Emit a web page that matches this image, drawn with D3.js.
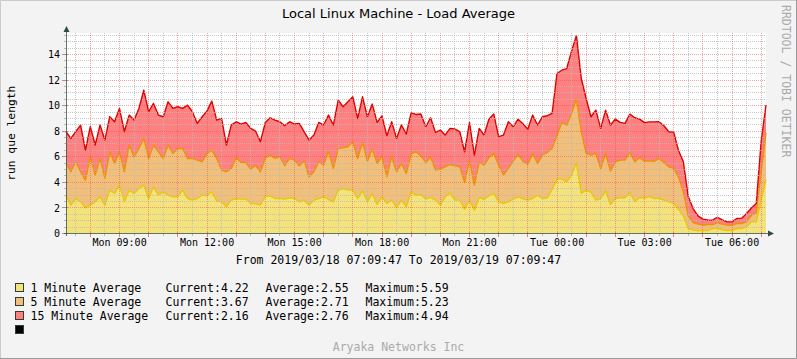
<!DOCTYPE html>
<html><head><meta charset="utf-8">
<script src="https://cdn.jsdelivr.net/npm/d3@7"></script>
<style>body{margin:0;background:#F3F3F3} svg{display:block}</style>
</head><body><svg id="c" width="797" height="359"></svg>
<script>
const startTime = Date.UTC(2019, 2, 18, 7, 9, 47);
const stepMinutes = 10;
const oneMin = [2.95,2.22,2.74,2.48,2.01,2.22,2.48,2.87,2.22,3.39,
3.13,3.78,2.48,3.39,3.13,3.52,3.78,2.74,3.65,3.00,
3.26,3.00,2.87,2.87,3.39,2.74,2.61,2.74,3.00,2.95,
3.26,2.53,2.48,2.09,2.61,2.74,2.69,2.71,2.35,2.32,
2.22,2.92,2.95,2.74,2.74,2.69,2.79,2.74,2.48,2.61,
2.22,2.61,2.74,2.87,2.66,2.48,3.39,3.52,3.39,3.39,
2.74,3.34,2.48,3.13,2.27,2.87,2.35,2.61,2.03,2.61,
2.09,3.26,3.00,3.05,2.69,2.82,2.61,2.22,2.87,3.18,
2.61,2.61,1.90,2.61,1.82,2.82,2.66,2.95,3.13,2.48,
2.35,2.48,2.69,2.87,2.71,2.61,2.74,3.00,2.74,2.79,
3.44,4.25,4.25,4.04,4.56,5.55,3.13,3.39,3.21,2.61,
2.74,3.34,2.27,2.74,2.79,2.79,3.21,2.48,2.82,2.76,
2.89,2.74,2.74,2.61,2.48,2.35,1.90,1.38,0.39,0.26,
0.21,0.23,0.23,0.39,0.39,0.29,0.23,0.23,0.39,0.39,
0.52,0.91,0.91,2.61,4.22];
const fiveMin = [2.53,2.61,2.87,2.35,2.16,3.78,2.09,3.00,2.09,3.00,
2.35,2.61,2.35,3.52,2.87,3.13,3.65,3.13,3.26,3.39,
2.61,3.91,3.39,3.78,3.26,3.13,3.26,3.00,2.61,3.31,
3.26,3.34,2.48,2.74,2.48,3.18,2.87,2.84,2.69,3.02,
2.61,3.00,3.18,3.13,3.26,2.61,3.08,3.00,2.82,3.05,
2.22,2.22,2.87,2.48,3.78,2.61,3.26,3.18,3.39,3.78,
3.13,3.78,3.18,3.47,3.21,3.18,2.09,3.39,2.79,2.87,
2.61,2.97,3.39,3.02,2.87,3.15,2.35,2.82,2.35,2.22,
2.69,2.61,2.09,3.13,1.96,2.74,2.69,2.97,3.13,2.87,
2.22,2.61,2.97,3.31,2.95,2.79,3.52,2.48,3.39,3.55,
3.21,3.44,4.43,4.43,4.80,5.01,4.82,2.87,2.92,3.65,
2.35,2.92,2.61,2.87,2.95,2.95,3.13,3.13,3.10,2.89,
2.79,2.89,3.13,2.95,2.74,2.74,2.53,1.88,0.99,0.60,
0.52,0.42,0.47,0.31,0.44,0.44,0.42,0.42,0.39,0.39,
0.39,0.52,0.70,2.22,3.67];
const fifteenMin = [2.48,2.61,2.35,3.65,2.35,2.35,2.35,2.61,3.00,2.74,
3.26,3.39,3.13,2.35,2.87,3.13,3.78,3.65,3.26,2.87,
3.26,3.39,3.52,3.26,3.13,4.17,3.65,2.87,3.52,3.31,
3.83,3.00,4.04,2.09,3.39,2.82,3.00,3.13,3.18,2.66,
2.35,2.76,2.92,3.00,2.74,3.13,2.87,2.82,3.31,2.29,
2.87,2.87,3.08,3.13,2.82,3.39,3.78,3.21,3.52,3.52,
3.13,3.57,3.47,3.52,3.21,3.15,3.21,2.74,2.61,3.00,
3.08,3.21,2.92,3.28,2.79,3.08,2.95,3.05,2.48,2.82,
2.87,2.74,2.40,2.95,2.35,2.66,2.35,3.02,3.08,2.22,
3.13,3.65,2.69,2.76,2.92,2.76,3.00,3.00,3.00,2.87,
2.74,4.82,4.09,4.43,4.90,4.92,4.17,4.30,3.00,3.39,
3.13,3.39,3.60,3.34,2.95,2.87,3.00,3.44,3.02,3.02,
3.05,3.10,2.87,2.87,2.74,2.84,2.06,2.35,1.51,1.09,
0.65,0.47,0.36,0.34,0.44,0.34,0.26,0.26,0.39,0.42,
0.65,0.57,0.73,2.35,2.16];
const seriesNames = ["1 Minute Average", "5 Minute Average", "15 Minute Average"];
const currentVals = ["4.22", "3.67", "2.16"];
const averageVals = ["2.55", "2.71", "2.76"];
const maximumVals = ["5.59", "5.23", "4.94"];
const yTicks = [0, 2, 4, 6, 8, 10, 12, 14];
const titleText = "Local Linux Machine - Load Average";
const yLabelText = "run que length";
const rangeText = "From 2019/03/18 07:09:47 To 2019/03/19 07:09:47";
const watermarkText = "RRDTOOL / TOBI OETIKER";
const footerText = "Aryaka Networks Inc";

const fills = ["#F4E37C", "#F1BF7A", "#FF8080"];
const strokes = ["#EBC800", "#EE9200", "#E00000"];

const W = 797, H = 359, L = 66, R = 766, T = 33, B = 233.5;
const mono = "'DejaVu Sans Mono', monospace";
const svg = d3.select("#c");

svg.append("rect").attr("width", W).attr("height", H).attr("fill", "#F3F3F3");
svg.append("path").attr("d", `M0.5,${H}V0.5H${W}`).attr("fill", "none").attr("stroke", "#CBCBCB");
svg.append("path").attr("d", `M0,${H-0.5}H${W-0.5}V0`).attr("fill", "none").attr("stroke", "#999999");

const x = d3.scaleUtc()
  .domain([new Date(startTime), new Date(startTime + 24 * 3600000)])
  .range([L, R]);
const y = d3.scaleLinear().domain([0, 15.68]).range([B, T]);

const rows = oneMin.map((v, i) => ({
  t: new Date(startTime + i * stepMinutes * 60000),
  a: v, b: fiveMin[i], c: fifteenMin[i]
}));
const layers = d3.stack().keys(["a", "b", "c"])(rows);

svg.append("rect").attr("x", L).attr("y", T).attr("width", R - L).attr("height", B - T).attr("fill", "#FFFFFF");

const area = d3.area().x(d => x(d.data.t)).y0(d => y(d[0])).y1(d => y(d[1]));
const line = d3.line().x(d => x(d.data.t)).y(d => y(d[1]));

layers.forEach((ly, k) => {
  svg.append("path").datum(ly).attr("d", area).attr("fill", fills[k]);
});
layers.forEach((ly, k) => {
  svg.append("path").datum(ly).attr("d", line).attr("fill", "none")
    .attr("stroke", strokes[k]).attr("stroke-width", 1.4).attr("stroke-linejoin", "round");
});

// grid
const g = svg.append("g").attr("shape-rendering", "crispEdges");
const px = v => Math.floor(v) + 0.5;
const minorY = d3.range(0.5, 15.6, 0.5).filter(v => v % 2 !== 0);
const majorY = yTicks.filter(v => v > 0);
const t0 = new Date(startTime), t1 = new Date(startTime + 24 * 3600000);
const halfHours = d3.utcMinute.every(30).range(t0, t1).filter(d => d.getUTCMinutes() === 30);
const hours = d3.utcHour.range(t0, t1);

minorY.forEach(v => g.append("line").attr("x1", L).attr("x2", R).attr("y1", px(y(v))).attr("y2", px(y(v)))
  .attr("stroke", "#BABABA").attr("stroke-opacity", 0.8).attr("stroke-dasharray", "1,1"));
halfHours.forEach(d => g.append("line").attr("x1", px(x(d))).attr("x2", px(x(d))).attr("y1", T).attr("y2", B)
  .attr("stroke", "#BABABA").attr("stroke-opacity", 0.8).attr("stroke-dasharray", "1,1"));
majorY.forEach(v => g.append("line").attr("x1", L).attr("x2", R).attr("y1", px(y(v))).attr("y2", px(y(v)))
  .attr("stroke", "#DE5050").attr("stroke-opacity", 0.5).attr("stroke-dasharray", "1,1"));
hours.forEach(d => g.append("line").attr("x1", px(x(d))).attr("x2", px(x(d))).attr("y1", T).attr("y2", B)
  .attr("stroke", "#DE5050").attr("stroke-opacity", 0.5).attr("stroke-dasharray", "1,1"));

// ticks
minorY.forEach(v => g.append("line").attr("x1", L - 2).attr("x2", L + 1).attr("y1", px(y(v))).attr("y2", px(y(v))).attr("stroke", "#BABABA"));
yTicks.forEach(v => g.append("line").attr("x1", L - 4).attr("x2", L + 2).attr("y1", px(y(v))).attr("y2", px(y(v))).attr("stroke", "#D88080"));
halfHours.forEach(d => g.append("line").attr("x1", px(x(d))).attr("x2", px(x(d))).attr("y1", B - 1).attr("y2", B + 2).attr("stroke", "#BABABA"));
hours.forEach(d => g.append("line").attr("x1", px(x(d))).attr("x2", px(x(d))).attr("y1", B - 2).attr("y2", B + 3).attr("stroke", "#E88080"));

// axes
const axisColor = "#2C4D43";
g.append("line").attr("x1", L - 2).attr("x2", R + 4).attr("y1", px(B)).attr("y2", px(B)).attr("stroke", axisColor).attr("stroke-opacity", 0.75);
g.append("line").attr("x1", px(L)).attr("x2", px(L)).attr("y1", B + 2).attr("y2", T - 1).attr("stroke", axisColor).attr("stroke-opacity", 0.75);
svg.append("path").attr("d", `M${R + 2},${px(B) - 3}L${R + 8},${px(B)}L${R + 2},${px(B) + 3}Z`).attr("fill", axisColor);
svg.append("path").attr("d", `M${px(L) - 3},${T - 1}L${px(L)},${T - 7}L${px(L) + 3},${T - 1}Z`).attr("fill", axisColor);

// y tick labels
svg.append("g").selectAll("text").data(yTicks).join("text")
  .attr("x", 60).attr("y", v => y(v) + 3.6).attr("text-anchor", "end")
  .attr("font-family", mono).attr("font-size", "10px").attr("fill", "#000").text(v => v);

// x tick labels
const labelHours = hours.filter(d => d.getUTCHours() % 3 === 0);
const fmt = d3.utcFormat("%a %H:%M");
svg.append("g").selectAll("text").data(labelHours).join("text")
  .attr("x", d => x(d)).attr("y", 246).attr("text-anchor", "middle")
  .attr("font-family", mono).attr("font-size", "10px").attr("fill", "#000").text(d => fmt(d));

// title
svg.append("text").attr("x", 398.5).attr("y", 18.3).attr("text-anchor", "middle")
  .attr("font-family", "'DejaVu Sans', sans-serif").attr("font-size", "13px").attr("fill", "#000").text(titleText);

// y label
svg.append("text").attr("transform", `translate(15,${(T + B) / 2}) rotate(-90)`).attr("text-anchor", "middle")
  .attr("font-family", mono).attr("font-size", "11.3px").attr("fill", "#000").text(yLabelText);

// watermark
svg.append("text").attr("transform", `translate(781.5,5) rotate(90)`).attr("text-anchor", "start")
  .attr("font-family", mono).attr("font-size", "11.5px").attr("fill", "#AAAAAA").text(watermarkText);

// range text
svg.append("text").attr("x", 398.5).attr("y", 263.5).attr("text-anchor", "middle")
  .attr("font-family", mono).attr("font-size", "11.5px").attr("fill", "#000").text(rangeText);

// legend
const leg = svg.append("g").attr("font-family", mono).attr("font-size", "11.5px").attr("fill", "#000");
const swatchColors = fills.concat(["#000000"]);
swatchColors.forEach((c, k) => {
  leg.append("rect").attr("x", 15.5).attr("y", 283.5 + 14 * k).attr("width", 8).attr("height", 8)
    .attr("fill", c).attr("stroke", "#2C3E36").attr("shape-rendering", "crispEdges");
});
seriesNames.forEach((n, k) => {
  const yy = 291.6 + 14 * k;
  leg.append("text").attr("x", 30.5).attr("y", yy).text(n);
  leg.append("text").attr("x", 165.5).attr("y", yy).text("Current:" + currentVals[k]);
  leg.append("text").attr("x", 265.5).attr("y", yy).text("Average:" + averageVals[k]);
  leg.append("text").attr("x", 365.5).attr("y", yy).text("Maximum:" + maximumVals[k]);
});

// footer
svg.append("text").attr("x", 398.5).attr("y", 350.5).attr("text-anchor", "middle")
  .attr("font-family", mono).attr("font-size", "11.5px").attr("fill", "#AAAAAA").text(footerText);
</script>
</body></html>
